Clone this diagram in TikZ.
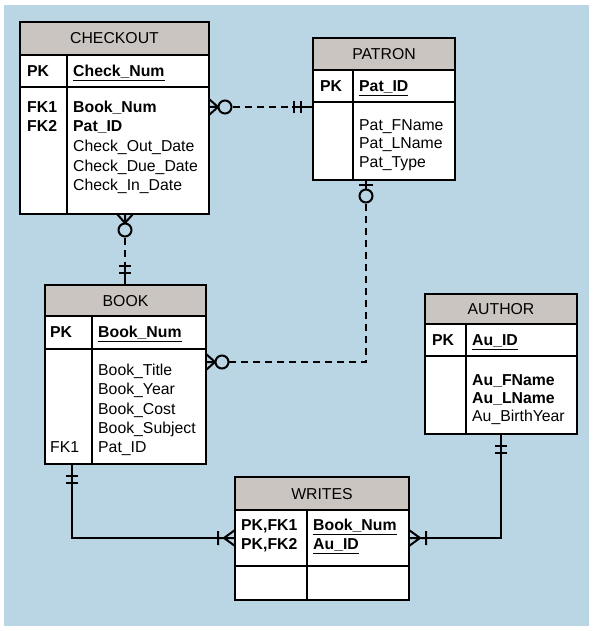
\documentclass[tikz,border=0pt]{standalone}
\usepackage{fontspec}
\setmainfont{Liberation Sans}
\usetikzlibrary{positioning}

\definecolor{paper}{RGB}{186,213,227}
\definecolor{headgray}{RGB}{202,197,192}

\tikzset{
  tbl/.style={draw, line width=1.5pt, fill=white, inner sep=0pt, outer sep=0pt},
  tblhead/.style={tbl, fill=headgray, anchor=north west, text height=11pt, text depth=0pt},
  fld/.style={anchor=west, inner sep=0pt, text height=11pt, text depth=0pt},
  key/.style={fld, font=\bfseries},
  rel/.style={line width=2pt},
  opt/.style={rel, dash pattern=on 7pt off 5pt},
  % crow's foot marks, drawn outward along +x from the table edge
  zeromany/.pic={
    \draw (0,-8) -- (9,0) -- (0,8) (0,0) -- (9,0);
    \draw[fill=paper] (16,0) circle (6.5pt);
  },
  zeroone/.pic={
    \draw (0,0) -- (10,0) (5,-7) -- (5,7);
    \draw[fill=paper] (16,0) circle (6.5pt);
  },
  onlyone/.pic={
    \draw (0,0) -- (21,0) (12,-6) -- (12,6) (19,-6) -- (19,6);
  },
  onemany/.pic={
    \draw (0,-8) -- (11,0) -- (0,8) (0,0) -- (18,0) (17,-7) -- (17,7);
  }
}

\begin{document}
\fontsize{15.8}{19}\selectfont
\begin{tikzpicture}[x=1pt, y=-1pt]

  % background
  \useasboundingbox (0,0) rectangle (594,631);
  \fill[paper] (4,5) rectangle (589,626);

  % CHECKOUT
  \node[tblhead, minimum width=189pt, minimum height=33pt] (co-head) at (20,22) {CHECKOUT};
  \node[tbl, minimum width=189pt, minimum height=32pt, below=0pt of co-head] (co-pk) {};
  \node[tbl, minimum width=189pt, minimum height=127pt, below=0pt of co-pk] (co-body) {};
  \draw[line width=1.5pt] ([xshift=47pt]co-pk.north west) -- ([xshift=47pt]co-body.south west);
  \node[key] (co-pkl) at (27,71) {PK};
  \node[key] (co-pkf) at (73,71) {\underline{Check\_Num}};
  \node[key] (co-fk1) at (27,107) {FK1};
  \node[key] (co-fk2) at (27,126) {FK2};
  \node[key] (co-f1) at (73,107) {Book\_Num};
  \node[key] (co-f2) at (73,126) {Pat\_ID};
  \node[fld] (co-f3) at (73,146) {Check\_Out\_Date};
  \node[fld] (co-f4) at (73,166) {Check\_Due\_Date};
  \node[fld] (co-f5) at (73,185) {Check\_In\_Date};

  % PATRON
  \node[tblhead, minimum width=142pt, minimum height=32pt] (pa-head) at (313,38) {PATRON};
  \node[tbl, minimum width=142pt, minimum height=32pt, below=0pt of pa-head] (pa-pk) {};
  \node[tbl, minimum width=142pt, minimum height=78pt, below=0pt of pa-pk] (pa-body) {};
  \draw[line width=1.5pt] ([xshift=40pt]pa-pk.north west) -- ([xshift=40pt]pa-body.south west);
  \node[key] (pa-pkl) at (320,86) {PK};
  \node[key] (pa-pkf) at (359,86) {\underline{Pat\_ID}};
  \node[fld] (pa-f1) at (359,125) {Pat\_FName};
  \node[fld] (pa-f2) at (359,143) {Pat\_LName};
  \node[fld] (pa-f3) at (359,162) {Pat\_Type};

  % BOOK
  \node[tblhead, minimum width=161pt, minimum height=31pt] (bk-head) at (45,285) {BOOK};
  \node[tbl, minimum width=161pt, minimum height=33pt, below=0pt of bk-head] (bk-pk) {};
  \node[tbl, minimum width=161pt, minimum height=115pt, below=0pt of bk-pk] (bk-body) {};
  \draw[line width=1.5pt] ([xshift=47pt]bk-pk.north west) -- ([xshift=47pt]bk-body.south west);
  \node[key] (bk-pkl) at (50,332) {PK};
  \node[key] (bk-pkf) at (98,332) {\underline{Book\_Num}};
  \node[fld] (bk-f1) at (98,370) {Book\_Title};
  \node[fld] (bk-f2) at (98,389) {Book\_Year};
  \node[fld] (bk-f3) at (98,409) {Book\_Cost};
  \node[fld] (bk-f4) at (98,428) {Book\_Subject};
  \node[fld] (bk-f5) at (98,447) {Pat\_ID};
  \node[fld] (bk-fk1) at (50,447) {FK1};

  % AUTHOR
  \node[tblhead, minimum width=152pt, minimum height=30pt] (au-head) at (425,294) {AUTHOR};
  \node[tbl, minimum width=152pt, minimum height=32pt, below=0pt of au-head] (au-pk) {};
  \node[tbl, minimum width=152pt, minimum height=78pt, below=0pt of au-pk] (au-body) {};
  \draw[line width=1.5pt] ([xshift=41pt]au-pk.north west) -- ([xshift=41pt]au-body.south west);
  \node[key] (au-pkl) at (432,340) {PK};
  \node[key] (au-pkf) at (472,340) {\underline{Au\_ID}};
  \node[key] (au-f1) at (472,380) {Au\_FName};
  \node[key] (au-f2) at (472,398) {Au\_LName};
  \node[fld] (au-f3) at (472,416) {Au\_BirthYear};

  % WRITES
  \node[tblhead, minimum width=174pt, minimum height=33pt] (wr-head) at (235,477) {WRITES};
  \node[tbl, minimum width=174pt, minimum height=56pt, below=0pt of wr-head] (wr-keys) {};
  \node[tbl, minimum width=174pt, minimum height=34pt, below=0pt of wr-keys] (wr-rest) {};
  \draw[line width=1.5pt] ([xshift=72pt]wr-keys.north west) -- ([xshift=72pt]wr-rest.south west);
  \node[key] (wr-k1) at (241,525) {PK,FK1};
  \node[key] (wr-k2) at (241,544) {PK,FK2};
  \node[key] (wr-f1) at (313,525) {\underline{Book\_Num}};
  \node[key] (wr-f2) at (313,544) {\underline{Au\_ID}};

  % relationships
  \draw[opt] ([yshift=-20pt]co-body.north east) -- ([yshift=-5pt]pa-body.north west);
  \draw[opt] ([xshift=105pt]co-body.south west) -- ([xshift=80pt]bk-head.north west);
  \draw[opt] ([xshift=53pt]pa-body.south west) |- ([yshift=-13pt]bk-body.north east);
  \draw[rel] ([xshift=27pt]bk-body.south west) |- ([yshift=-28pt]wr-keys.north west);
  \draw[rel] ([xshift=76pt]au-body.south west) |- ([yshift=-28pt]wr-keys.north east);

  % cardinality marks
  \pic[rel] at ([yshift=-20pt]co-body.north east) {zeromany};
  \pic[rel, rotate=180] at ([yshift=-5pt]pa-body.north west) {onlyone};
  \pic[rel, rotate=-90] at ([xshift=105pt]co-body.south west) {zeromany};
  \pic[rel, rotate=90] at ([xshift=80pt]bk-head.north west) {onlyone};
  \pic[rel, rotate=-90] at ([xshift=53pt]pa-body.south west) {zeroone};
  \pic[rel] at ([yshift=-13pt]bk-body.north east) {zeromany};
  \pic[rel, rotate=-90] at ([xshift=27pt]bk-body.south west) {onlyone};
  \pic[rel, rotate=180] at ([yshift=-28pt]wr-keys.north west) {onemany};
  \pic[rel, rotate=-90] at ([xshift=76pt]au-body.south west) {onlyone};
  \pic[rel] at ([yshift=-28pt]wr-keys.north east) {onemany};

\end{tikzpicture}
\end{document}
